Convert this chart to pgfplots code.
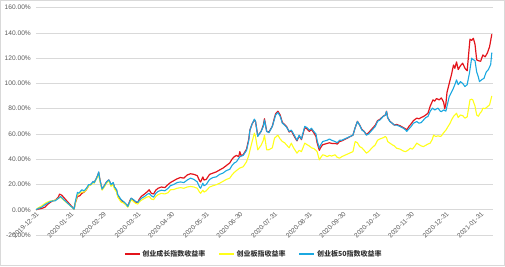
\documentclass[border=0pt]{standalone}
\usepackage{pgfplots}
\usepackage{pgfplotstable}
\pgfplotsset{compat=1.18}
\usepackage{fontspec}
\setmainfont{Liberation Sans}
\newfontfamily\cjk{Noto Sans CJK SC}
\definecolor{cred}{HTML}{E3141B}
\definecolor{cyel}{HTML}{FFFF1A}
\definecolor{cblue}{HTML}{1BA8E0}
\definecolor{gridc}{HTML}{D9D9D9}
\definecolor{txt}{HTML}{595959}

% x = calendar days since 2019-12-31, y = return in %
\pgfplotstableread{
d v
0 0
2 0.5
5 1
8 2
10 4
13 6
15 7
17 7.5
20 10
21 12.4
23 11.5
34 0.5
35 5
37 10.5
39 11
41 13
43 14
45 16
47 19
49 20
51 22
52 21.5
54 25
55 27
56 29.5
57 24
59 16.3
61 19
63 22
65 23.5
66 22
67 19.5
69 21
70 18
72 15
73 11
76 7.5
78 6
80 4.5
82 3
84 7.5
85 9
87 7.5
89 6
91 6
92 8
94 10.5
97 12.5
99 14
101 15.8
103 13
105 12.5
107 15.5
109 17
112 18
115 17.5
118 20
120 21.5
123 23
126 24.5
129 25.5
132 25
135 27.5
138 28.5
141 28
144 27
146 23
147 22
149 26
150 23.5
152 24
155 28
158 29
161 30
164 31.5
167 33
170 35
173 37
175 40
177 42
179 43
181 42
182 46
183 43
185 43.5
188 48
190 56
191 63
193 68
195 71
196 70
198 58.5
201 62
203 67
204 72
206 62
208 61.5
211 66
213 73
214 76
216 78
218 75
220 69
222 67.5
224 65.5
226 61.5
228 62.5
230 59
233 54.5
235 58.5
237 55.5
240 65
242 64
244 62
246 63.5
248 61
250 58
251 53
253 47
254 49
256 51.5
258 52
260 52.5
262 53
264 52.5
267 52.5
269 52
271 54
273 54.5
283 59
285 65
287 70
289 67
291 63.5
293 62
295 59.5
297 61
300 64
303 67
305 70.5
307 71.5
310 74
312 75
313 78
314 73
316 70
318 68.5
320 67
322 67.5
325 66.5
328 65
330 64
331 63
333 66
335 68
337 70.5
340 72.5
342 72
344 73
346 73.8
348 75
350 76.4
352 82
354.5 87
356 86
357.6 88
360 87
362 88.5
364 85
365 80
366 84
367 93
369.8 102.8
371 107
372.8 114.6
374 112
375.5 117
377 111
379 114
381 116
383 112
385 110
387.5 135
389 134
390.5 135.7
392 131
393.5 118.6
395 118
397 117.5
399 122.5
401 121
403 124
405 129
407 138.9
}\growth

\pgfplotstableread{
d v
0 0
2 1.5
5 3
8 5
10 6
13 7
15 7
17 7.5
20 9
22 10
23 9
34 0.5
35 5
37 12
38 12.5
41 14
43 14
45 16
47 19
49 19.5
51 21.5
52 21
54 24.5
55 26
56 28.5
57 23
59 15.5
61 18
63 21
65 23
66 21
67 18.5
69 20
70 16.5
72 14
73 10
76 6
78 5.5
80 4
82 2
84 6
85 8
87 6.5
89 5
91 4.5
92 6
94 7.5
97 9
99 10
101 10.5
103 8.5
105 8
107 10.5
109 12
112 13
115 12.5
118 13.5
120 15.8
123 16
126 17
129 17.5
132 17
135 18
138 18.4
141 18
144 17
146 14
147 13
149 15.5
150 14
152 15
155 18
158 19
161 19.8
164 21
167 22.5
170 24
173 25
175 27.5
177 29.5
179 31
182 33
185 34
188 38
190 43
191 47
193 54
195 60.6
196 58
198 47.4
201 51
203 55
204 59
206 47.4
208 47.5
211 49
213 56.7
214 57.5
216 59
218 56
220 54
222 53
224 51
226 49
228 52.7
230 49
233 44.8
235 47
237 46
240 52.7
242 51.5
244 50.5
246 49
248 48.5
250 47
251 46
253 39.5
254 41
256 43.5
258 43
260 42
262 43
264 42.5
267 43.5
269 41.5
271 40.8
273 42
283 46
285 54
287 53
289 50
291 49
293 47
295 44.8
297 46
300 49
303 51.4
305 55
307 56
310 57
312 58
313 57
314 54
316 52.7
318 51.5
320 50.5
322 48.7
325 48
328 46.5
330 46
332 47
334.2 48.7
336 48
338 50
340 52.7
342 51.5
344 50.5
346 50
348 51
350 52
352 52.7
354 56
355 59
357 58
359 58.5
361 58
362 58.5
364 61
366 63
368 66
369.8 68.5
371 71
372.8 73.8
374 75
375.5 76.4
377 73
379 75
381 74.5
383 72.5
385 73.5
387.5 87
389 87.5
390 87
392 82
393.5 75
395 74
396.5 76.4
398 78
399 80.4
401 80
403 81.5
405 83
407 90.1
}\chinext

\pgfplotstableread{
d v
0 0
2 1
5 2
8 4
10 5
13 6.5
15 7
17 7
20 9
22 10.5
23 9.5
34 0.5
35 6
37 13.7
38 13
41 15.8
43 15
45 17
47 19.8
49 20
51 22.4
52 21.5
54 25
55 27
56 30
57 24
59 16.3
61 19
63 22
65 23.7
66 22
67 19.8
69 21.6
70 18
72 16
73 12
76 8
78 6.6
80 5
82 2.6
84 7
85 9.2
87 8
89 6.6
91 5.8
92 7
94 9
97 10.5
99 12
101 13
103 11
105 10
107 13
109 14.5
112 15.5
115 15
118 17
120 19
123 20
126 21.5
129 22
132 21.5
135 23.5
138 25
141 24
144 22
146 18
147 17
149 21
150 19
152 20
155 24
158 25.5
161 26
164 28
167 29
170 31
173 32
175 35
177 37
179 38
182 42
185 43
188 47
190 55
191 63
193 68
195 71.7
196 70
198 58
201 62
203 66
204 71
206 62
208 61
211 66
213 72
214 75
216 77
218 74
220 68.5
222 67
224 65
226 62
228 63
230 60
233 55
235 59
237 56
240 66
242 65
244 63
246 64.5
248 62
250 60
251 55
253 48.7
254 51
256 54
258 54.5
260 55
262 56
264 55
267 54
269 53
271 55
273 55
283 59
285 65
287 69.8
289 67
291 63
293 62
295 59
297 60
300 63
303 66
305 70
307 71
310 73.8
312 75
313 77.7
314 73
316 69.8
318 68.5
320 67
322 67
325 65.9
328 64.5
330 63.2
331 62
333 64
335 66
337 68.5
340 69.8
342 68.5
344 69
346 71
348 73
350 73.8
352 78
354 80.4
356 79
359 80.4
361 78
362 77.7
364 79
366 78
367 82
369 89.6
371 93
372.6 96
374 99
375.5 102.8
377 99
379 101.4
381 100
383 97.5
385 99
387 108
389 120
390 119
392 118
393.5 109
395 105
396 101.4
398 103
400 104
402 109
404 111
406 115
407 124.4
}\chinextfifty

\begin{document}
\begin{tikzpicture}
\useasboundingbox (-36pt,-31pt) rectangle (469pt,235pt);
\begin{axis}[
  at={(0pt,0pt)}, anchor=south west,
  scale only axis, width=456.7pt, height=227.4pt,
  xmin=0, xmax=407.8, ymin=-20, ymax=160,
  axis x line*=middle, axis y line*=left,
  hide obscured x ticks=false, hide obscured y ticks=false,
  x axis line style={gridc, line width=0.6pt},
  y axis line style={draw=none},
  major tick length=0pt,
  ymajorgrids, grid style={gridc, line width=0.6pt},
  ytick={-20,0,20,40,60,80,100,120,140,160},
  /pgf/number format/assume math mode=true,
  yticklabel={\pgfmathprintnumber[fixed,fixed zerofill,precision=2]{\tick}\%},
  yticklabel style={font=\fontsize{6.6}{7}\selectfont, text=txt, inner sep=1pt, xshift=-4pt},
  xtick={0,31,60,91,121,152,182,213,244,274,305,335,366,397},
  xticklabels={2019-12-31,2020-01-31,2020-02-29,2020-03-31,2020-04-30,2020-05-31,2020-06-30,2020-07-31,2020-08-31,2020-09-30,2020-10-31,2020-11-30,2020-12-31,2021-01-31},
  xticklabel style={rotate=45, anchor=north east, font=\fontsize{6.6}{7}\selectfont, text=txt, inner sep=1pt},
  legend columns=3,
  legend style={at={(axis description cs:0.477,-0.0836)}, anchor=center, draw=none, fill=none,
    font=\cjk\bfseries\fontsize{7}{8}\selectfont, text=black!80, inner sep=0pt,
    /tikz/every even column/.append style={column sep=11pt}},
  legend image code/.code={\draw[#1, line width=1.3pt] (0pt,0pt) -- (15pt,0pt);},
  every axis plot/.append style={line join=round},
]
\addplot[cred, line width=1.2pt] table[x=d, y=v] {\growth};
\addlegendentry{创业成长指数收益率}
\addplot[cyel, line width=1.1pt] table[x=d, y=v] {\chinext};
\addlegendentry{创业板指收益率}
\addplot[cblue, line width=1.1pt] table[x=d, y=v] {\chinextfifty};
\addlegendentry{创业板50指数收益率}
\end{axis}
\draw[gray!30, line width=0.6pt] (-35.6pt,-30.6pt) rectangle (468.6pt,234.6pt);
\end{tikzpicture}
\end{document}
